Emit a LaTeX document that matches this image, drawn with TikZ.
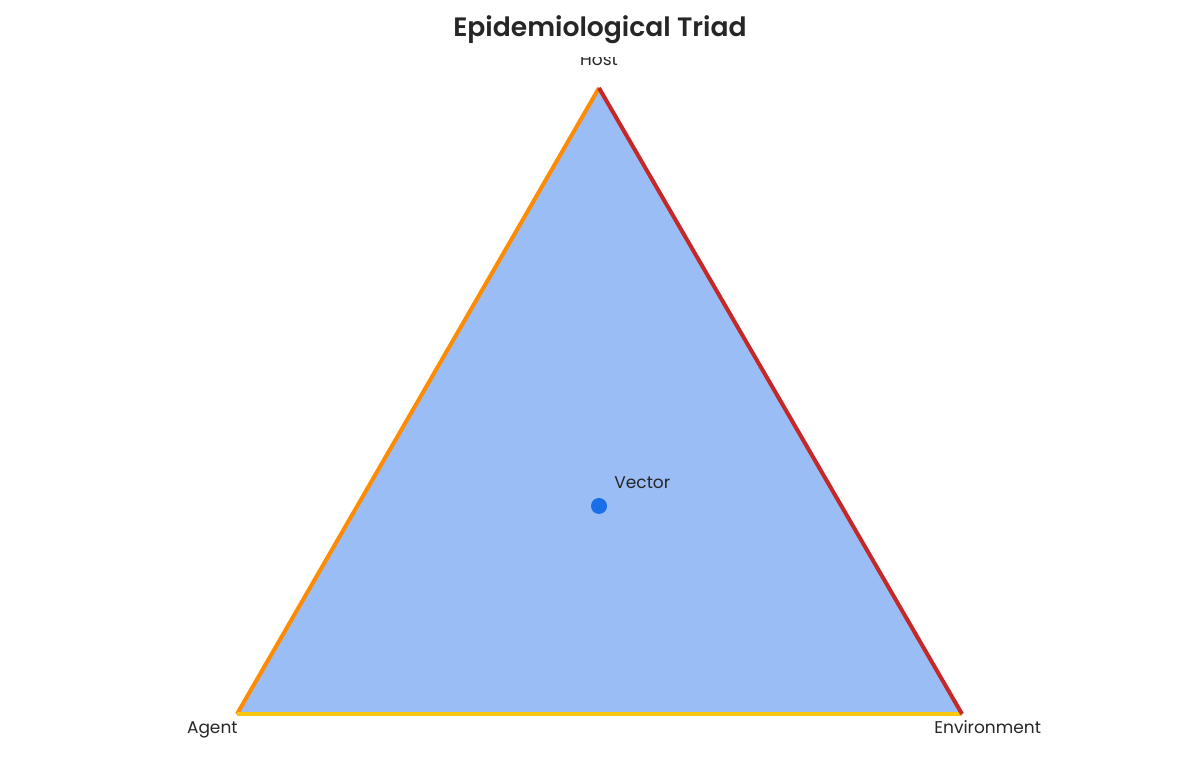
\documentclass[tikz,border=0pt]{standalone}
\usepackage{fontspec}
\setmainfont{Poppins}
\newfontfamily\titlefont{Poppins SemiBold}
\definecolor{fillblue}{HTML}{9ABDF5}
\definecolor{dotblue}{HTML}{1A6FE8}
\definecolor{edgeorange}{HTML}{FF8C00}
\definecolor{edgered}{HTML}{C62828}
\definecolor{edgeyellow}{HTML}{F9C80E}
\definecolor{textgray}{HTML}{262626}
\begin{document}
\begin{tikzpicture}[x=0.5pt,y=-0.5pt,
  vertexlabel/.style={font=\fontsize{8.5}{10}\selectfont, text=textgray, inner sep=0pt}]
\useasboundingbox (0,0) rectangle (1200,763);

\coordinate (host) at (599,88);
\coordinate (agent) at (237,714);
\coordinate (env) at (962,714);

\fill[fillblue, draw=dotblue, line width=0.4pt] (agent) -- (host) -- (env) -- cycle;

\draw[edgeorange, line width=2pt] (agent) -- (host);
\draw[edgeyellow, line width=2pt] (agent) -- (env);
\draw[edgered, line width=2pt] (host) -- (env);

\node[font=\fontsize{13.3}{15}\titlefont, text=textgray] (title) at (600,30) {Epidemiological Triad};

\begin{scope}
\clip (500,58) rectangle (700,80);
\node[vertexlabel, anchor=base] (hostlabel) at (599,65.5) {Host};
\end{scope}
\node[vertexlabel, anchor=base east] (agentlabel) at (238,734) {Agent};
\node[vertexlabel, anchor=base west] (envlabel) at (934,734) {Environment};

\fill[dotblue] (599,506) circle (8) coordinate (vector);
\node[vertexlabel, anchor=base west] (vectorlabel) at (614,489) {Vector};
\end{tikzpicture}
\end{document}
